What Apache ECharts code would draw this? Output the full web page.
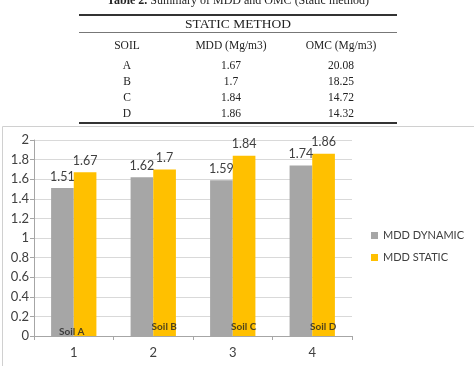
<!DOCTYPE html>
<html><head><meta charset="utf-8">
<script src="https://cdn.jsdelivr.net/npm/echarts@6/dist/echarts.min.js"></script>
<style>html,body{margin:0;padding:0;background:#fff}#c{width:474px;height:366px}</style>
</head><body><div id="c"></div>
<script>
const categories = ['1', '2', '3', '4'];
const mddDynamic = [1.51, 1.62, 1.59, 1.74];
const mddStatic = [1.67, 1.7, 1.84, 1.86];
const soilLabels = ['Soil A', 'Soil B', 'Soil C', 'Soil D'];
const tableTitle = 'Summary of MDD and OMC (Static method)';
const tableHeader = ['SOIL', 'MDD (Mg/m3)', 'OMC (Mg/m3)'];
const tableSoil = ['A', 'B', 'C', 'D'];
const tableMDD = ['1.67', '1.7', '1.84', '1.86'];
const tableOMC = ['20.08', '18.25', '14.72', '14.32'];

const chart = echarts.init(document.getElementById('c'));
const serif = '"Liberation Serif", "DejaVu Serif", serif';
const sans = 'Lato, "Open Sans", sans-serif';
const colX = [127, 231, 341];
const rowY = [66, 82, 98, 114];
const g = [];
g.push({type:'text', x:238, y:1, style:{text:'{b|Table 2.} ' + tableTitle, rich:{b:{fontWeight:'bold', fontFamily:serif, fontSize:12, fill:'#222'}}, fontFamily:serif, fontSize:12, fill:'#222', align:'center', verticalAlign:'middle'}});
g.push({type:'line', shape:{x1:79, y1:15, x2:397, y2:15}, style:{stroke:'#333', lineWidth:2}});
g.push({type:'text', x:238, y:24, style:{text:'STATIC METHOD', fontFamily:serif, fontSize:13.5, fill:'#222', align:'center', verticalAlign:'middle'}});
g.push({type:'line', shape:{x1:79, y1:32.5, x2:397, y2:32.5}, style:{stroke:'#777', lineWidth:1}});
tableHeader.forEach((h, i) => g.push({type:'text', x:colX[i], y:46, style:{text:h, fontFamily:serif, fontSize:11.5, fill:'#222', align:'center', verticalAlign:'middle'}}));
tableSoil.forEach((s, r) => {
  [s, tableMDD[r], tableOMC[r]].forEach((t, i) => g.push({type:'text', x:colX[i], y:rowY[r], style:{text:t, fontFamily:serif, fontSize:11.5, fill:'#222', align:'center', verticalAlign:'middle'}}));
});
g.push({type:'line', shape:{x1:79, y1:123, x2:397, y2:123}, style:{stroke:'#333', lineWidth:2}});
g.push({type:'rect', shape:{x:2.5, y:126.5, width:480, height:300}, style:{fill:'none', stroke:'#d0d0d0', lineWidth:1}});

const soilOffsets = [[-2, -4], [11, -9], [11, -9], [11, -9]];

chart.setOption({
  animation: false,
  graphic: g,
  grid: {left:34, right:122, top:140, bottom:30},
  legend: {
    orient:'vertical', left:366, top:225, itemWidth:7, itemHeight:7, itemGap:11,
    icon:'rect',
    textStyle:{fontFamily:sans, fontSize:11, color:'#404040'},
    data:['MDD DYNAMIC', 'MDD STATIC']
  },
  xAxis: {
    type:'category', data:categories,
    axisLine:{lineStyle:{color:'#a6a6a6'}},
    axisTick:{show:true, length:4, lineStyle:{color:'#a6a6a6'}},
    axisLabel:{fontFamily:sans, fontSize:13, color:'#404040', margin:10},
    splitLine:{show:false}
  },
  yAxis: {
    type:'value', min:0, max:2, interval:0.2,
    axisLine:{show:true, lineStyle:{color:'#a6a6a6'}},
    axisTick:{show:true, length:4, lineStyle:{color:'#a6a6a6'}},
    axisLabel:{fontFamily:sans, fontSize:13, color:'#404040', margin:5, formatter:v => String(Math.round(v*10)/10)},
    splitLine:{lineStyle:{color:'#d9d9d9'}}
  },
  series: [
    {name:'MDD DYNAMIC', type:'bar', data:mddDynamic, barGap:'0%', barCategoryGap:'43%',
     itemStyle:{color:'#a6a6a6'},
     label:{show:true, position:'top', distance:5, fontFamily:sans, fontSize:12.5, color:'#404040'}},
    {name:'MDD STATIC', type:'bar', data:mddStatic, barGap:'0%', barCategoryGap:'43%',
     itemStyle:{color:'#ffc000'},
     label:{show:true, position:'top', distance:5, fontFamily:sans, fontSize:12.5, color:'#404040'}},
    {name:'soil', type:'scatter', symbolSize:0, silent:true, z:5,
     data: soilLabels.map((s, i) => ({value:[i, 0], name:s, label:{offset:soilOffsets[i]}})),
     label:{show:true, position:'inside', formatter:p => p.name, fontFamily:sans, fontWeight:'bold', fontSize:10, color:'#222'}}
  ]
});
</script></body></html>
